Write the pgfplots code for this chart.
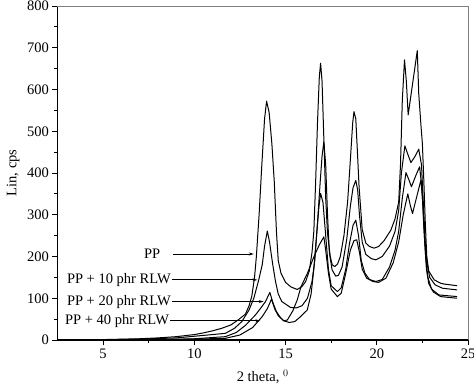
\documentclass[border=0pt]{standalone}
\usepackage{pgfplots}
\pgfplotsset{compat=1.18}
\usepackage{fontspec}
\setmainfont{Liberation Serif}
\usetikzlibrary{arrows.meta}
\newcommand{\fs}{\fontsize{14.5}{17}\selectfont}
\tikzset{crv/.style={black, line width=1pt, line join=round, mark=none}}
\begin{document}
\begin{tikzpicture}
\begin{axis}[
  scale only axis, width=410.5pt, height=334pt,
  xmin=2.5, xmax=25, ymin=0, ymax=800,
  xtick={5,10,15,20,25}, ytick={0,100,...,800},
  minor x tick num=1, minor y tick num=1,
  tick align=outside, major tick length=5pt, minor tick length=3pt,
  axis x line*=bottom, axis y line*=left,
  axis line style={line width=1.1pt, -},
  tick style={line width=1pt, black},
  /pgf/number format/assume math mode=true,
  tick label style={font=\fs},
  label style={font=\fs},
  xlabel={2 theta, $^{0}$},
  ylabel={Lin, cps},
  x label style={at={(axis description cs:0.5,-0.124)}, anchor=base},
  y label style={at={(axis description cs:-0.108,0.5)}, anchor=center},
  clip=false,
]
% PP
\addplot[crv] coordinates {(2.6,0) (4,0.5) (5,1) (6,2) (7,3) (8,5) (9,8) (10,13) (10.5,17) (11,22) (11.5,28) (12,36) (12.4,48) (12.8,62) (13.0,82) (13.15,105) (13.3,150) (13.4,200) (13.55,300) (13.7,420) (13.85,530) (13.96,572) (14.1,545) (14.25,470) (14.38,380) (14.5,260) (14.6,190) (14.75,160) (15.0,138) (15.3,127) (15.64,121) (15.9,128) (16.1,140) (16.3,165) (16.45,210) (16.55,260) (16.65,380) (16.75,520) (16.85,630) (16.92,663) (17.0,620) (17.1,480) (17.2,340) (17.3,255) (17.45,200) (17.56,180) (17.7,176) (17.85,182) (18.0,200) (18.2,250) (18.4,330) (18.55,430) (18.68,520) (18.75,547) (18.85,530) (18.95,440) (19.03,367) (19.2,265) (19.4,232) (19.6,224) (19.85,220) (20.1,224) (20.4,238) (20.77,263) (21.0,290) (21.2,330) (21.3,420) (21.4,575) (21.52,671) (21.62,620) (21.72,539) (22.22,693) (22.3,590) (22.42,515) (22.5,470) (22.58,380) (22.66,280) (22.74,200) (22.85,165) (23.15,144) (23.5,136) (23.7,134) (24.4,130)};
% PP + 10 phr RLW
\addplot[crv] coordinates {(2.6,0) (5,0.5) (7,2) (9,5) (10,9) (11,13) (11.7,16) (12.2,28) (12.6,44) (13.0,72) (13.26,100) (13.53,144) (13.72,180) (13.85,225) (14.0,261) (14.12,235) (14.3,180) (14.45,140) (14.6,110) (14.8,92) (15.27,78) (15.6,77) (15.9,82) (16.2,100) (16.45,140) (16.6,190) (16.75,280) (16.9,380) (17.0,440) (17.1,475) (17.2,420) (17.3,300) (17.4,210) (17.55,168) (17.75,153) (17.9,155) (18.1,175) (18.35,240) (18.55,320) (18.7,365) (18.85,382) (18.95,360) (19.05,300) (19.2,235) (19.4,205) (19.7,195) (19.95,192) (20.3,200) (20.7,225) (21.0,260) (21.2,310) (21.35,400) (21.54,465) (21.7,445) (21.87,425) (22.1,440) (22.3,457) (22.45,420) (22.55,330) (22.65,240) (22.75,185) (22.9,150) (23.2,132) (23.6,124) (24.4,120)};
% PP + 20 phr RLW
\addplot[crv] coordinates {(2.6,0) (5,0) (8,1) (10,3) (11.7,8) (12.3,18) (12.8,35) (13.35,60) (13.7,80) (13.9,92) (14.14,114) (14.3,90) (14.5,68) (14.7,55) (14.9,46) (15.2,42) (15.5,44) (15.8,55) (16.19,72) (16.4,110) (16.55,170) (16.7,250) (16.83,320) (16.92,351) (17.05,330) (17.2,250) (17.35,170) (17.5,130) (17.84,116) (18.05,125) (18.3,170) (18.5,230) (18.7,275) (18.85,287) (19.0,250) (19.15,190) (19.35,160) (19.6,145) (19.95,140) (20.3,145) (20.7,175) (21.0,215) (21.2,260) (21.4,340) (21.6,401) (21.75,385) (21.9,367) (22.15,395) (22.35,415) (22.48,360) (22.58,270) (22.68,200) (22.8,150) (23.0,122) (23.4,108) (24.4,104)};
% PP + 40 phr RLW
\addplot[crv] coordinates {(2.6,0) (5,0) (8,1) (10,2) (11.7,4) (12.5,12) (13.2,30) (13.72,56) (14.0,75) (14.23,98) (14.4,75) (14.6,58) (14.9,46) (15.1,48) (15.4,70) (15.64,96) (15.85,128) (16.2,160) (16.56,200) (16.85,228) (17.1,247) (17.2,215) (17.35,160) (17.5,122) (17.84,104) (18.05,112) (18.3,160) (18.55,215) (18.75,238) (18.9,240) (19.05,210) (19.2,170) (19.45,148) (19.8,140) (20.1,138) (20.5,148) (20.9,185) (21.2,235) (21.45,300) (21.7,350) (21.85,320) (21.96,303) (22.2,345) (22.42,383) (22.52,330) (22.62,240) (22.72,170) (22.85,135) (23.1,115) (23.5,104) (24.4,100)};
% frame top/right
\draw[gray, line width=0.5pt] (rel axis cs:0,1) -- (rel axis cs:1,1) -- (rel axis cs:1,0);
% labels and arrows
\node[anchor=east, inner sep=0pt, font=\fs] at (axis cs:8.14,206) {PP};
\node[anchor=east, inner sep=0pt, font=\fs] at (axis cs:8.72,144) {PP + 10 phr RLW};
\node[anchor=east, inner sep=0pt, font=\fs] at (axis cs:8.72,92) {PP + 20 phr RLW};
\node[anchor=east, inner sep=0pt, font=\fs] at (axis cs:8.62,46) {PP + 40 phr RLW};
\draw[line width=0.8pt, -{Stealth[length=5pt,width=3pt]}] (axis cs:8.85,206) -- (axis cs:13.26,206);
\draw[line width=0.8pt, -{Stealth[length=5pt,width=3pt]}] (axis cs:8.79,144) -- (axis cs:13.46,144);
\draw[line width=0.8pt, -{Stealth[length=5pt,width=3pt]}] (axis cs:8.79,92) -- (axis cs:13.8,92);
\draw[line width=0.8pt, -{Stealth[length=5pt,width=3pt]}] (axis cs:8.68,46) -- (axis cs:13.62,46);
\end{axis}
\pgfresetboundingbox
\path[use as bounding box] (-57.5pt,-46pt) rectangle (416.5pt,340pt);
\end{tikzpicture}
\end{document}
